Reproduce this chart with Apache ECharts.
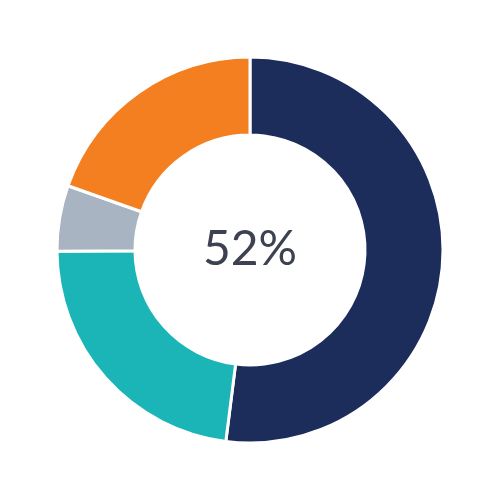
<!DOCTYPE html>
<html><head><meta charset="utf-8">
<script src="https://cdn.jsdelivr.net/npm/echarts@6/dist/echarts.min.js"></script>
<style>html,body{margin:0;padding:0;background:#fff}#c{width:500px;height:500px}</style>
</head><body><div id="c"></div>
<script>
const categories = ['A', 'B', 'C', 'D'];
const values = [52, 22.9, 5.5, 19.6];
const colors = ['#1c2c5b', '#1bb5b7', '#a9b4c2', '#f47f20'];
const centerLabel = '52%';

const chart = echarts.init(document.getElementById('c'));
chart.setOption({
  animation: false,
  title: {
    text: centerLabel,
    left: 'center', top: 'middle',
    textStyle: { fontFamily: 'Lato', fontWeight: 'normal', fontSize: 48, color: '#3c4250' }
  },
  series: [{
    type: 'pie',
    center: [250, 250],
    radius: [115, 193],
    startAngle: 90,
    clockwise: true,
    label: { show: false },
    labelLine: { show: false },
    itemStyle: { borderColor: '#fff', borderWidth: 3 },
    data: categories.map((c, i) => ({ name: c, value: values[i], itemStyle: { color: colors[i] } }))
  }]
});
</script></body></html>
